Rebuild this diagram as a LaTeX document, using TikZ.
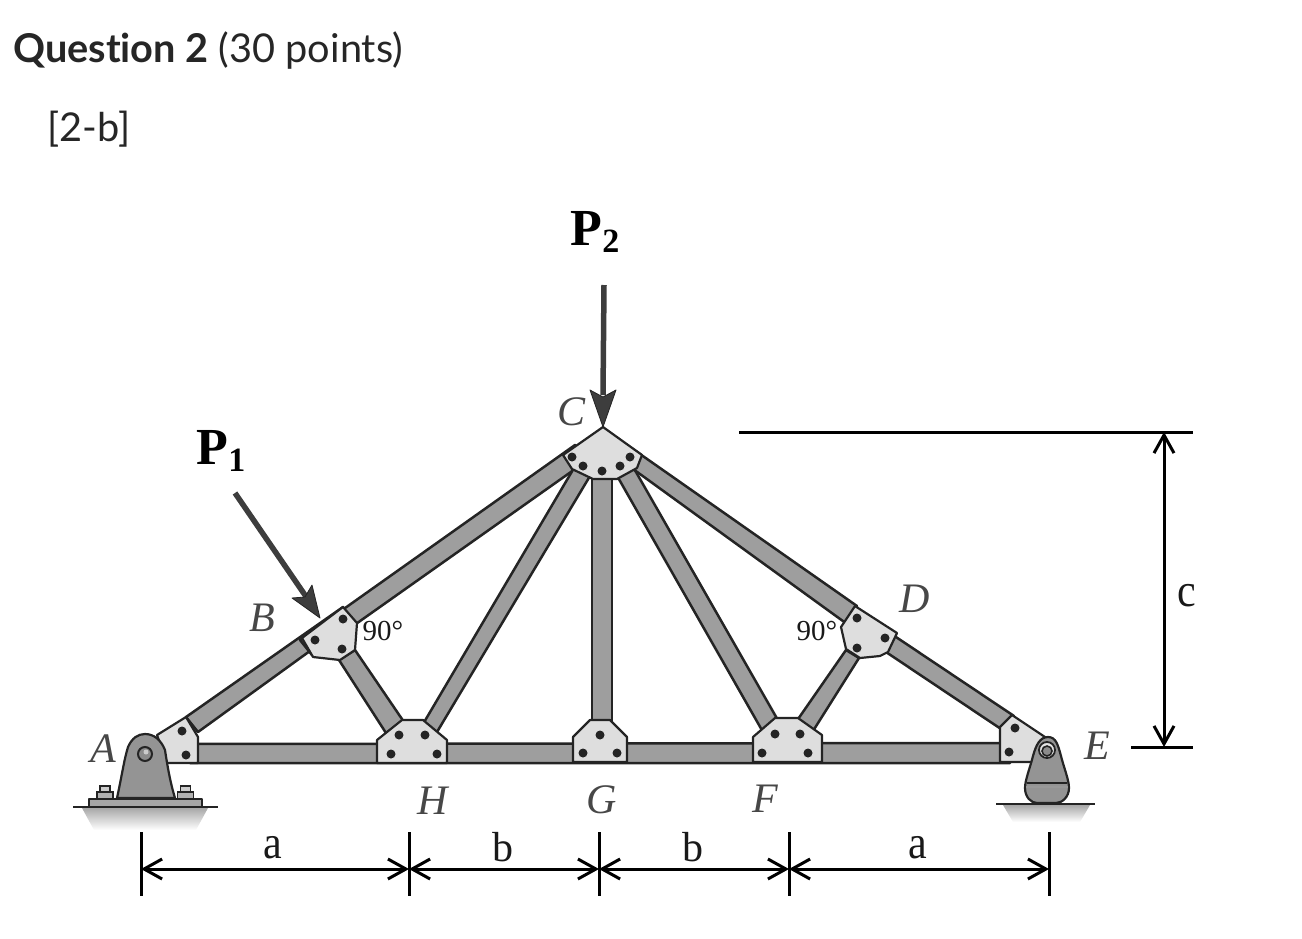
\documentclass[tikz,border=0pt]{standalone}
\usetikzlibrary{arrows.meta}
\usepackage{fontspec}
\setmainfont{Liberation Serif}
\newfontfamily\latofont[Ligatures=NoCommon]{Lato}
\definecolor{memb}{gray}{0.62}
\definecolor{plate}{gray}{0.87}
\definecolor{ink}{gray}{0.14}
\definecolor{supp}{gray}{0.58}
\definecolor{arrowc}{gray}{0.24}
\tikzset{
  member/.style={draw=ink,line width=2.5pt,fill=memb,line join=round},
  gusset/.style={draw=ink,line width=2.2pt,fill=plate,line join=round},
  support/.style={draw=ink,line width=2.2pt,fill=supp,line join=round},
  rivet/.style={circle,fill=ink,inner sep=0pt,minimum size=9pt},
  dimline/.style={black,line width=3pt},
  dimarrow/.style={black,line width=3pt,{Straight Barb[length=18pt,width=20pt,line width=3pt]}-{Straight Barb[length=18pt,width=20pt,line width=3pt]}},
  groundline/.style={draw=ink,line width=2pt},
  force/.style={draw=arrowc,line width=5.5pt},
  forcehead/.style={fill=arrowc,draw=ink,line width=.8pt,line join=round},
  ptlabel/.style={font=\fontsize{42}{42}\selectfont\itshape,text=black!72,inner sep=0pt},
  dimlabel/.style={font=\fontsize{42}{42}\selectfont,text=black!90,inner sep=0pt},
  anglelabel/.style={font=\fontsize{29}{29}\selectfont,text=black!90,inner sep=0pt},
  loadlabel/.style={font=\fontsize{52}{52}\selectfont\bfseries,inner sep=0pt},
  titlelabel/.style={font=\latofont\fontsize{39.7}{40}\selectfont,text=black!85,anchor=base west,inner sep=0pt},
}
\begin{document}
\begin{tikzpicture}[x=1pt,y=-1pt]
\useasboundingbox (0,0) rectangle (1302,938);
% title
\node[titlelabel] (title) at (13,62) {\textbf{Question 2} (30 points)};
\node[titlelabel] (part) at (47,141) {[2-b]};
% ground shading
\shade[top color=black!34,bottom color=white] (82,808) -- (208,808) -- (196,830) -- (94,830) -- cycle;
\shade[top color=black!34,bottom color=white] (1003,805) -- (1090,805) -- (1080,822) -- (1013,822) -- cycle;
% members
\draw[member] (190,763) -- (190,744) -- (1010,743) -- (1010,763) -- cycle;
\draw[member] (186,717) -- (343,607) -- (350,622) -- (198,732) -- cycle;
\draw[member] (300,640) -- (575,445) -- (585,462) -- (312,655) -- cycle;
\draw[member] (339,660) -- (355,650) -- (404,722) -- (386,733) -- cycle;
\draw[member] (423,724) -- (574,468) -- (590,476) -- (437,732) -- cycle;
\draw[member] (592,475) -- (612,475) -- (612,724) -- (592,724) -- cycle;
\draw[member] (616,474) -- (632,465) -- (779,722) -- (763,732) -- cycle;
\draw[member] (796,722) -- (846,650) -- (859,658) -- (813,731) -- cycle;
\draw[member] (630,447) -- (857,606) -- (847,624) -- (622,461) -- cycle;
\draw[member] (890,633) -- (1014,716) -- (1004,731) -- (880,648) -- cycle;
% gussets
\draw[gusset] (157,735) -- (186,717) -- (198,737) -- (198,763) -- (167,763) -- cycle;
\draw[gusset] (302,638) -- (343,607) -- (357,623) -- (355,650) -- (340,660) -- (313,657) -- cycle;
\draw[gusset] (377,763) -- (377,740) -- (402,720) -- (423,720) -- (447,740) -- (447,763) -- cycle;
\draw[gusset] (573,762) -- (573,737) -- (590,720) -- (610,720) -- (627,737) -- (627,762) -- cycle;
\draw[gusset] (753,762) -- (753,737) -- (775,718) -- (798,718) -- (822,735) -- (822,762) -- cycle;
\draw[gusset] (855,606) -- (897,633) -- (888,652) -- (880,656) -- (860,658) -- (846,649) -- (841,627) -- cycle;
\draw[gusset] (1012,715) -- (1045,737) -- (1032,762) -- (1000,762) -- (1000,727) -- cycle;
\draw[gusset] (603,427) -- (642,455) -- (637,468) -- (617,479) -- (593,479) -- (572,469) -- (563,455) -- cycle;
% rivets
\foreach \n/\p in {a1/{(182,731)},a2/{(186,755)},
  b1/{(343,619)},b2/{(315,640)},b3/{(342,649)},
  h1/{(399,735)},h2/{(425,735)},h3/{(391,754)},h4/{(437,754)},
  g1/{(600,735)},g2/{(583,753)},g3/{(617,753)},
  f1/{(775,734)},f2/{(800,734)},f3/{(762,753)},f4/{(808,753)},
  d1/{(857,618)},d2/{(885,638)},d3/{(857,648)},
  e1/{(1015,728)},e2/{(1009,752)},
  c1/{(572,457)},c2/{(583,466)},c3/{(602,471)},c4/{(620,466)},c5/{(630,457)}}
  \node[rivet] (r\n) at \p {};
% support A
\draw[groundline] (73,807) -- (218,807);
\draw[support,fill=black!35] (89,799) rectangle (202,807);
\foreach \bx in {105,185.5}{
  \draw[draw=ink,line width=1.6pt,fill=black!30] (\bx-8,799) -- (\bx-8,792) -- (\bx+8,792) -- (\bx+8,799) -- cycle;
  \draw[draw=ink,line width=1.6pt,fill=black!20] (\bx-5,792) rectangle (\bx+5,786);
}
\draw[support] (117,798) .. controls (122,775) and (124,760) .. (128,747)
  .. controls (132,738) and (138,734) .. (145,734)
  .. controls (154,734) and (161,740) .. (165,750)
  .. controls (168,770) and (171,785) .. (175,798) -- cycle;
\draw[draw=ink,line width=2pt,fill=black!45] (145,754) circle (7pt);
\fill[black!20] (146,752) circle (2.5pt);
% support E
\draw[groundline] (996,804) -- (1095,804);
\draw[support] (1048,737) .. controls (1056,737) and (1058,745) .. (1061,756)
  .. controls (1064,768) and (1069,780) .. (1069,788)
  .. controls (1069,797) and (1062,803) .. (1056,803)
  -- (1037,803) .. controls (1031,803) and (1025,797) .. (1025,788)
  .. controls (1025,780) and (1030,768) .. (1033,756)
  .. controls (1036,745) and (1040,737) .. (1048,737) -- cycle;
\draw[draw=ink,line width=1.6pt] (1027,783) -- (1067,783);
\draw[draw=black!40,line width=1.4pt] (1026,787) -- (1068,787);
\draw[draw=ink,line width=1.8pt,fill=black!10] (1047,750) circle (8pt);
\draw[draw=ink,line width=1.6pt,fill=black!45] (1047,751) circle (5pt);
% forces
\coordinate (p1s) at (235,493);
\coordinate (p1e) at (320,618);
\coordinate (p2s) at (604,285);
\coordinate (p2e) at (603,427);
\draw[force] (p1s) -- (307,598);
\draw[forcehead] (p1e) -- (292,598) -- (305,597) -- (312,585) -- cycle;
\draw[force] (p2s) -- (603,395);
\draw[forcehead] (p2e) -- (590,390) -- (603,397) -- (616,390) -- cycle;
% dimensions
\foreach \tn/\tx in {t1/141,t2/409,t3/599,t4/789,t5/1049}{
  \coordinate (\tn u) at (\tx,832);
  \coordinate (\tn d) at (\tx,896);
  \coordinate (\tn m) at (\tx,869);
  \draw[dimline] (\tn u) -- (\tn d);
}
\draw[dimarrow] (t1m) -- (t2m);
\draw[dimarrow] (t2m) -- (t3m);
\draw[dimarrow] (t3m) -- (t4m);
\draw[dimarrow] (t4m) -- (t5m);
\coordinate (c1) at (739,432); \coordinate (c2) at (1193,432);
\coordinate (c3) at (1131,747); \coordinate (c4) at (1193,747);
\coordinate (c5) at (1164,432); \coordinate (c6) at (1164,747);
\draw[dimline] (c1) -- (c2);
\draw[dimline] (c3) -- (c4);
\draw[dimarrow] (c5) -- (c6);
% labels
\node[dimlabel] (la1) at (273,848) {\scalebox{1}[1.12]{a}};
\node[dimlabel] (lb1) at (503,847) {b};
\node[dimlabel] (lb2) at (693,847) {b};
\node[dimlabel] (la2) at (918,848) {\scalebox{1}[1.12]{a}};
\node[dimlabel] (lc) at (1187,596) {\scalebox{1}[1.12]{c}};
\node[ptlabel] (lA) at (103,749) {A};
\node[ptlabel] (lB) at (262,618) {B};
\node[ptlabel] (lC) at (572,412) {C};
\node[ptlabel] (lD) at (915,599) {D};
\node[ptlabel] (lE) at (1097,746) {E};
\node[ptlabel] (lF) at (765,799) {F};
\node[ptlabel] (lG) at (602,800) {G};
\node[ptlabel] (lH) at (433,801) {H};
\node[anglelabel] (ang1) at (383,631) {90°};
\node[anglelabel] (ang2) at (817,631) {90°};
\node[loadlabel] (lp1) at (221,451) {P\raisebox{-0.12em}{\fontsize{34}{34}\selectfont 1}};
\node[loadlabel] (lp2) at (595,232) {P\raisebox{-0.12em}{\fontsize{34}{34}\selectfont 2}};
\end{tikzpicture}
\end{document}
